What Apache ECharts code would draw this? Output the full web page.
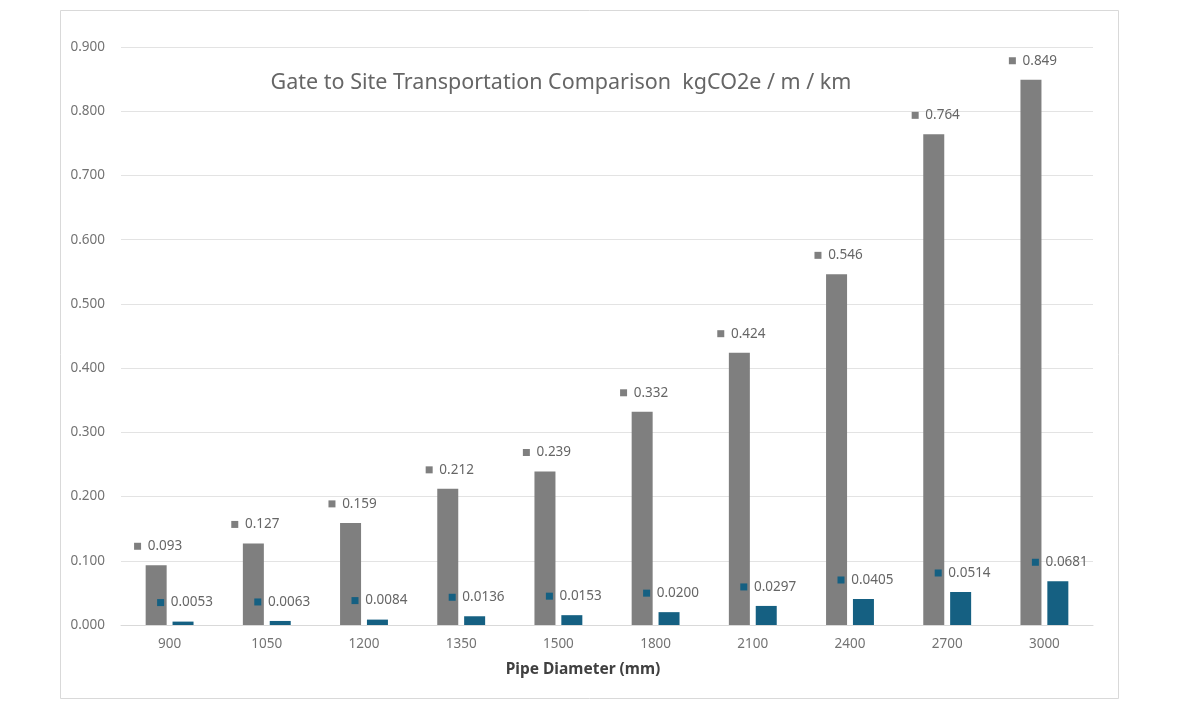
<!DOCTYPE html>
<html>
<head>
<meta charset="utf-8">
<script src="https://cdn.jsdelivr.net/npm/echarts@6/dist/echarts.min.js"></script>
<style>
  html, body { margin: 0; padding: 0; background: #fff; }
  #chart { width: 1181px; height: 709px; }
</style>
</head>
<body>
<div id="chart"></div>
<script>
// pipe diameters (mm)
const diameters = ['900', '1050', '1200', '1350', '1500', '1800', '2100', '2400', '2700', '3000'];
// gray series, kgCO2e / m / km
const grayValues = [0.093, 0.127, 0.159, 0.212, 0.239, 0.332, 0.424, 0.546, 0.764, 0.849];
// blue series, kgCO2e / m / km
const blueValues = [0.0053, 0.0063, 0.0084, 0.0136, 0.0153, 0.0200, 0.0297, 0.0405, 0.0514, 0.0681];

const GRAY = '#7f7f7f';
const BLUE = '#156082';
const FONT = 'Noto Sans';

function keyLabel(color, digits) {
  return {
    show: true,
    position: 'top',
    distance: 12,
    offset: [2, 0],
    formatter: p => '{sq|}  {v|' + p.value.toFixed(digits) + '}',
    rich: {
      sq: { width: 7, height: 7, backgroundColor: color },
      v: { fontFamily: FONT, fontSize: 13.5, color: '#666666' }
    }
  };
}

let chart = echarts.init(document.getElementById('chart'));
chart.setOption({
  backgroundColor: '#fff',
  animation: false,
  title: {
    text: 'Gate to Site Transportation Comparison  kgCO2e / m / km',
    left: 556,
    textAlign: 'center',
    top: 67,
    textStyle: { fontFamily: FONT, fontSize: 21.5, fontWeight: 'normal', color: '#666666' }
  },
  graphic: [{
    type: 'rect',
    shape: { x: 60.5, y: 10.5, width: 1058, height: 688 },
    style: { fill: 'none', stroke: '#d9d9d9', lineWidth: 1 },
    silent: true
  }],
  grid: { left: 121, right: 88, top: 47, bottom: 84 },
  xAxis: {
    type: 'category',
    data: diameters,
    name: 'Pipe Diameter (mm)',
    nameLocation: 'middle',
    nameGap: 37,
    nameTextStyle: { fontFamily: FONT, fontSize: 15.5, fontWeight: 'bold', color: '#404040', padding: [0, 0, 0, -48] },
    axisLine: { lineStyle: { color: '#d9d9d9' } },
    axisTick: { show: false },
    axisLabel: { fontFamily: FONT, fontSize: 13.5, color: '#737373', margin: 12 }
  },
  yAxis: {
    type: 'value',
    min: 0,
    max: 0.9,
    interval: 0.1,
    axisLine: { show: false },
    axisTick: { show: false },
    splitLine: { lineStyle: { color: '#e3e3e3' } },
    axisLabel: { fontFamily: FONT, fontSize: 13.5, color: '#737373', margin: 16, formatter: v => v.toFixed(3) }
  },
  series: [
    {
      type: 'bar',
      data: grayValues,
      barWidth: 21,
      barGap: '28%',
      itemStyle: { color: GRAY },
      label: keyLabel(GRAY, 3)
    },
    {
      type: 'bar',
      data: blueValues,
      barWidth: 21,
      itemStyle: { color: BLUE },
      label: keyLabel(BLUE, 4)
    }
  ]
});
</script>
</body>
</html>
